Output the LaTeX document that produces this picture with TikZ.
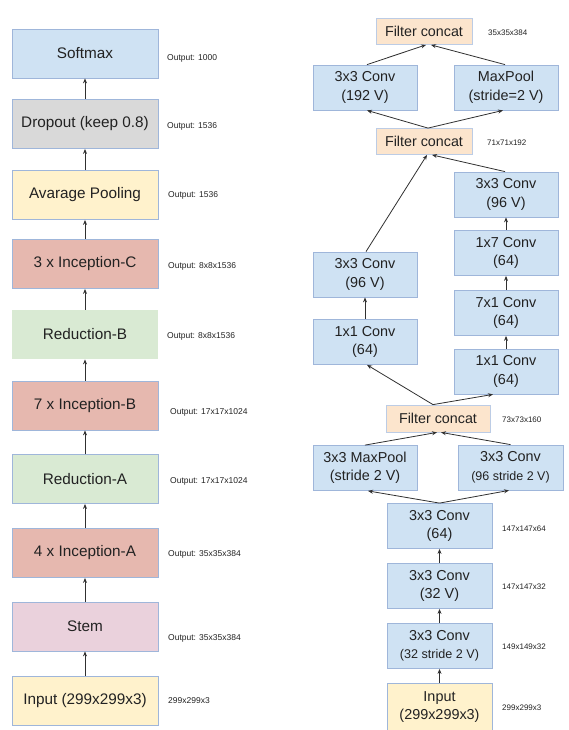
\documentclass[tikz,border=0pt]{standalone}
\usepackage{fontspec}
\setmainfont{Liberation Sans}
\usetikzlibrary{arrows.meta}
\definecolor{bordc}{HTML}{9FB6DA}
\definecolor{bluefill}{HTML}{CFE2F3}
\definecolor{fcfill}{HTML}{FCE5CD}
\definecolor{grayfill}{HTML}{D9D9D9}
\definecolor{yelfill}{HTML}{FFF2CC}
\definecolor{redfill}{HTML}{E6B8AF}
\definecolor{greenfill}{HTML}{D9EAD3}
\definecolor{pinkfill}{HTML}{EAD1DC}
\definecolor{txt}{HTML}{222222}
\definecolor{linec}{HTML}{303030}
\begin{document}
\begin{tikzpicture}[x=1pt,y=-1pt,
  lbox/.style={draw=bordc, line width=0.8pt, minimum width=146pt, minimum height=49pt, inner sep=0pt, text=txt, font=\fontsize{15.3}{18}\selectfont},
  rbox/.style={draw=bordc, fill=bluefill, line width=0.8pt, minimum width=104pt, minimum height=45pt, inner sep=0pt, align=center, text=txt, font=\fontsize{14.4}{18.5}\selectfont},
  fcbox/.style={draw=bordc!70, fill=fcfill, line width=0.8pt, minimum width=96pt, minimum height=26pt, inner sep=0pt, text=txt, font=\fontsize{14.3}{17}\selectfont},
  lab/.style={anchor=west, inner sep=0pt, text=txt, font=\fontsize{8.5}{10}\selectfont},
  rlab/.style={anchor=west, inner sep=0pt, text=txt, font=\fontsize{8}{10}\selectfont},
  conn/.style={-{Stealth[length=5pt,width=4pt]}, line width=0.8pt, draw=linec}
]
\useasboundingbox (0,0) rectangle (568,730);
% ---------------- left column ----------------
\node[lbox, fill=bluefill] (softmax) at (85,53.5) {Softmax};
\node[lbox, fill=grayfill] (dropout) at (85,124) {Dropout (keep 0.8)};
\node[lbox, fill=yelfill] (avgpool) at (85,195) {Avarage Pooling};
\node[lbox, fill=redfill] (incc) at (85,264) {3 x Inception-C};
\node[lbox, fill=greenfill, draw=none] (redb) at (85,334.5) {Reduction-B};
\node[lbox, fill=redfill] (incb) at (85,405.5) {7 x Inception-B};
\node[lbox, fill=greenfill] (reda) at (85,479) {Reduction-A};
\node[lbox, fill=redfill] (inca) at (85,553) {4 x Inception-A};
\node[lbox, fill=pinkfill] (stem) at (85,626.5) {Stem};
\node[lbox, fill=yelfill] (inputl) at (85,700.5) {Input (299x299x3)};

\draw[conn] (dropout) -- (softmax);
\draw[conn] (avgpool) -- (dropout);
\draw[conn] (incc) -- (avgpool);
\draw[conn] (redb) -- (incc);
\draw[conn] (incb) -- (redb);
\draw[conn] (reda) -- (incb);
\draw[conn] (inca) -- (reda);
\draw[conn] (stem) -- (inca);
\draw[conn] (inputl) -- (stem);

\node[lab] (l1) at (167,58) {Output: 1000};
\node[lab] (l2) at (167,126) {Output: 1536};
\node[lab] (l3) at (168,195) {Output: 1536};
\node[lab] (l4) at (168,266) {Output: 8x8x1536};
\node[lab] (l5) at (167,336) {Output: 8x8x1536};
\node[lab] (l6) at (170,412) {Output: 17x17x1024};
\node[lab] (l7) at (170,481) {Output: 17x17x1024};
\node[lab] (l8) at (168,554) {Output: 35x35x384};
\node[lab] (l9) at (168,638) {Output: 35x35x384};
\node[lab] (l10) at (168,701) {299x299x3};

% ---------------- right column ----------------
\node[fcbox] (fc1) at (424,31.5) {Filter concat};
\node[rbox] (c192) at (365,87.5) {3x3 Conv\\(192 V)};
\node[rbox] (mp) at (506,87.5) {MaxPool\\(stride=2 V)};
\node[fcbox] (fc2) at (424,141.5) {Filter concat};
\node[rbox] (r3) at (506,194.5) {3x3 Conv\\(96 V)};
\node[rbox] (r17) at (506,253) {1x7 Conv\\(64)};
\node[rbox] (r71) at (506,313) {7x1 Conv\\(64)};
\node[rbox] (r11) at (506,371.5) {1x1 Conv\\(64)};
\node[rbox] (l3x3) at (365,274.5) {3x3 Conv\\(96 V)};
\node[rbox] (l1x1) at (365,342) {1x1 Conv\\(64)};
\node[fcbox, minimum width=104pt, minimum height=27pt] (fc3) at (438,418.5) {Filter concat};
\node[rbox] (mp2) at (365,468) {3x3 MaxPool\\(stride 2 V)};
\node[rbox, minimum width=105pt, font=\fontsize{12.5}{18.5}\selectfont] (c96s2) at (510.5,467.5) {{\fontsize{14.4}{18.5}\selectfont 3x3 Conv}\\(96 stride 2 V)};
\node[rbox, minimum width=105pt] (c64) at (439.5,526) {3x3 Conv\\(64)};
\node[rbox, minimum width=105pt] (c32v) at (439.5,586) {3x3 Conv\\(32 V)};
\node[rbox, minimum width=105pt, font=\fontsize{12.6}{18.5}\selectfont] (c32s2) at (439.5,646) {{\fontsize{14.4}{18.5}\selectfont 3x3 Conv}\\(32 stride 2 V)};
\node[rbox, minimum width=105pt, minimum height=48pt, fill=yelfill] (inputr) at (439.5,707) {Input\\(299x299x3)};

\node[rlab] (t1) at (488,33) {35x35x384};
\node[rlab] (t2) at (487,143) {71x71x192};
\node[rlab] (t3) at (502,420) {73x73x160};
\node[rlab] (t4) at (502,529) {147x147x64};
\node[rlab] (t5) at (502,587) {147x147x32};
\node[rlab] (t6) at (502,647) {149x149x32};
\node[rlab] (t7) at (502,708) {299x299x3};

% stem chain
\draw[conn] (inputr) -- (c32s2);
\draw[conn] (c32s2) -- (c32v);
\draw[conn] (c32v) -- (c64);
\draw[conn] (c64.north) -- ([xshift=3pt]mp2.south);
\draw[conn] (c64.north) -- ([xshift=-1.5pt]c96s2.south);
\draw[conn] (mp2.north) -- ([xshift=-1pt]fc3.south);
\draw[conn] (c96s2.north) -- ([xshift=3pt]fc3.south);
\draw[conn] ([xshift=-5pt]fc3.north) -- ([xshift=2pt]l1x1.south);
\draw[conn] ([xshift=-5pt]fc3.north) -- ([xshift=-13pt]r11.south);
\draw[conn] (l1x1) -- (l3x3);
\draw[conn] (r11) -- (r71);
\draw[conn] (r71) -- (r17);
\draw[conn] (r17) -- (r3);
\draw[conn] ([xshift=1pt]l3x3.north) -- ([xshift=3pt]fc2.south);
\draw[conn] ([xshift=-1pt]r3.north) -- ([xshift=8pt]fc2.south);
\draw[conn] ([xshift=4pt]fc2.north) -- ([xshift=2pt]c192.south);
\draw[conn] ([xshift=4pt]fc2.north) -- ([xshift=-3pt]mp.south);
\draw[conn] ([xshift=2pt]c192.north) -- ([xshift=2pt]fc1.south);
\draw[conn] ([xshift=-1pt]mp.north) -- ([xshift=7pt]fc1.south);
\end{tikzpicture}
\end{document}
